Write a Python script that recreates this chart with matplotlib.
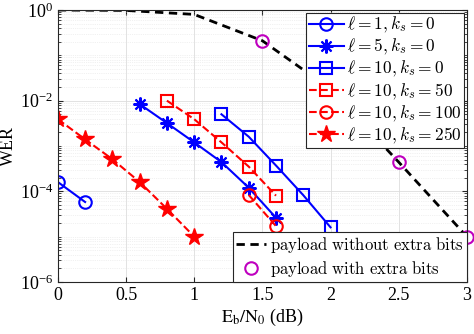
import numpy as np
import matplotlib
matplotlib.use('Agg')
from matplotlib import pyplot as plt
from matplotlib.ticker import LogLocator, NullFormatter, FixedLocator
from matplotlib.font_manager import FontProperties

plt.rcParams['font.family'] = ['Liberation Serif', 'DejaVu Serif']
plt.rcParams['mathtext.fontset'] = 'stix'

# data
snr_l1 = [0.0, 0.2]
wer_l1 = [1.6e-4, 5.8e-5]
snr_l5 = [0.6, 0.8, 1.0, 1.2, 1.4, 1.6]
wer_l5 = [8.4e-3, 3.2e-3, 1.2e-3, 4.4e-4, 1.2e-4, 2.6e-5]
snr_l10 = [1.2, 1.4, 1.6, 1.8, 2.0]
wer_l10 = [5.0e-3, 1.6e-3, 3.7e-4, 8.2e-5, 1.6e-5]
snr_ks50 = [0.8, 1.0, 1.2, 1.4, 1.6]
wer_ks50 = [1.0e-2, 3.9e-3, 1.2e-3, 3.5e-4, 8.0e-5]
snr_ks100 = [1.4, 1.6]
wer_ks100 = [8.3e-5, 1.7e-5]
snr_ks250 = [0.0, 0.2, 0.4, 0.6, 0.8, 1.0]
wer_ks250 = [3.9e-3, 1.4e-3, 5.1e-4, 1.6e-4, 4.1e-5, 1.0e-5]
snr_payload = [0.0, 0.5, 1.0, 1.5, 2.0, 2.5, 3.0]
wer_payload = [1.0, 0.98, 0.8, 0.21, 1.8e-2, 4.4e-4, 1.0e-5]
snr_extra = [1.5, 2.5, 3.0]
wer_extra = [0.21, 4.4e-4, 1.0e-5]

fig = plt.figure(figsize=(4.74, 3.34), dpi=100)
ax = fig.add_axes([0.122, 0.156, 0.863, 0.814])

lw = 1.5
h1, = ax.plot(snr_l1, wer_l1, '-o', color='b', mfc='none', ms=9, mew=1.5, lw=lw,
              label=r'$\ell = 1, k_s = 0$')
h2, = ax.plot(snr_l5, wer_l5, '-', marker=(8, 2, 0), color='b', ms=10, mew=1.5, lw=lw,
              label=r'$\ell = 5, k_s = 0$')
h3, = ax.plot(snr_l10, wer_l10, '-s', color='b', mfc='none', ms=8, mew=1.5, lw=lw,
              label=r'$\ell = 10, k_s = 0$')
h4, = ax.plot(snr_ks50, wer_ks50, '--s', color='r', mfc='none', ms=8, mew=1.5, lw=lw,
              label=r'$\ell = 10, k_s = 50$')
h5, = ax.plot(snr_ks100, wer_ks100, '--o', color='r', mfc='none', ms=9, mew=1.5, lw=lw,
              label=r'$\ell = 10, k_s = 100$')
h6, = ax.plot(snr_ks250, wer_ks250, '--*', color='r', ms=13, mew=1.0, lw=lw,
              label=r'$\ell = 10, k_s = 250$')
h7, = ax.plot(snr_payload, wer_payload, '--', color='k', lw=2, dashes=(3, 2),
              label=r'$\mathrm{payload\ without\ extra\ bits}$')
h8, = ax.plot(snr_extra, wer_extra, 'o', color='m', mfc='none', ms=9, mew=1.5,
              clip_on=False, label=r'$\mathrm{payload\ with\ extra\ bits}$')

ax.set_yscale('log')
ax.set_xlim(0, 3)
ax.set_ylim(1e-6, 1)
ax.set_xticks([0, 0.5, 1, 1.5, 2, 2.5, 3])
ax.set_xticklabels(['0', '0.5', '1', '1.5', '2', '2.5', '3'])
ax.yaxis.set_major_locator(FixedLocator([1e-6, 1e-4, 1e-2, 1]))
ax.yaxis.set_minor_locator(LogLocator(base=10, subs=np.arange(1, 10), numticks=20))
ax.yaxis.set_minor_formatter(NullFormatter())
ax.tick_params(which='both', direction='in', top=True, right=True, labelsize=13,
               color='#262626')
ax.tick_params(which='minor', length=2)
ax.grid(True, which='major', color='#dddddd', lw=0.6)
ax.grid(True, which='minor', axis='y', color='#e4e4e4', lw=0.5, ls=':')
for s in ax.spines.values():
    s.set_color('#262626')
    s.set_linewidth(0.8)

ax.set_xlabel(r'$\mathrm{E_b/N_0}$ (dB)', fontsize=13, labelpad=2)
ax.set_ylabel('WER', fontsize=13, labelpad=2)

leg_font = FontProperties(family='DejaVu Serif', size=12.5, math_fontfamily='cm')
leg1 = ax.legend(handles=[h1, h2, h3, h4, h5, h6], loc='upper right', prop=leg_font,
                 fancybox=False, edgecolor='#262626', framealpha=1,
                 borderaxespad=0.15, handlelength=2.0, handletextpad=0.2,
                 labelspacing=0.12, borderpad=0.15)
leg1.get_frame().set_linewidth(0.8)
ax.add_artist(leg1)
leg2_font = FontProperties(family='DejaVu Serif', size=12, math_fontfamily='cm')
leg2 = ax.legend(handles=[h7, h8], loc='lower right', prop=leg2_font,
                 fancybox=False, edgecolor='#262626', framealpha=1,
                 borderaxespad=0.0, handlelength=1.8, handletextpad=0.2,
                 labelspacing=0.2, borderpad=0.2)
leg2.get_frame().set_linewidth(0.8)

fig.savefig('out.png', dpi=100)
